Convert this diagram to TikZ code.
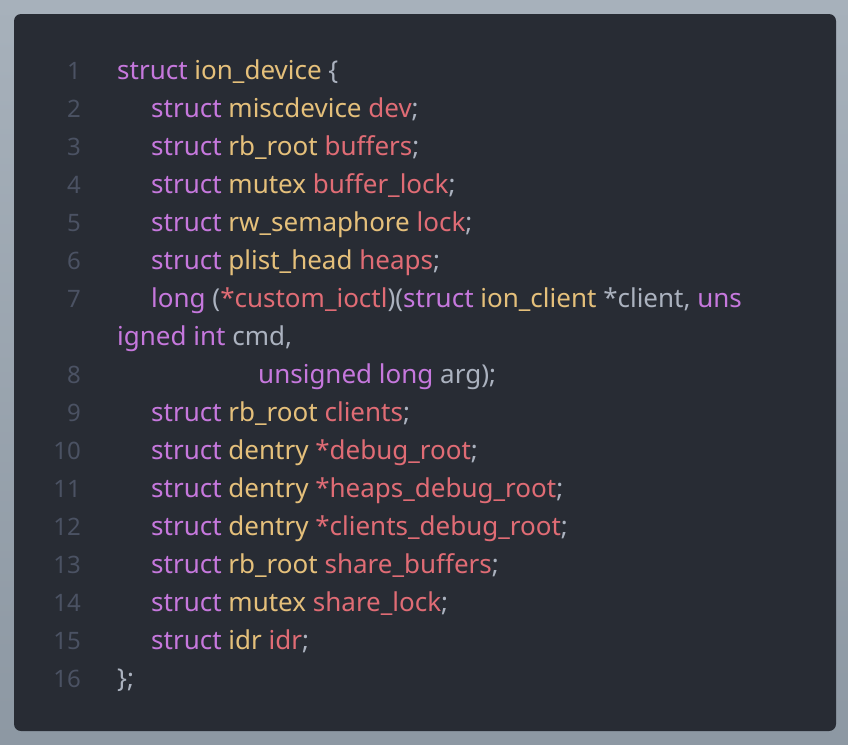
\documentclass[tikz,border=0pt]{standalone}
\usepackage{fontspec}
\setmainfont{Noto Sans}
\definecolor{kw}{HTML}{C678DD}
\definecolor{ty}{HTML}{E5C07B}
\definecolor{vr}{HTML}{E06C75}
\definecolor{pl}{HTML}{ABB2BF}
\definecolor{ln}{HTML}{4B5263}
\definecolor{panel}{HTML}{282C34}
\definecolor{outA}{HTML}{A7B1BB}
\definecolor{outB}{HTML}{8D98A3}
\newcommand{\K}[1]{\textcolor{kw}{#1}}
\newcommand{\T}[1]{\textcolor{ty}{#1}}
\newcommand{\V}[1]{\textcolor{vr}{#1}}
\newcommand{\Pl}[1]{\textcolor{pl}{#1}}
\begin{document}
\begin{tikzpicture}[x=1pt,y=-1pt,
  num/.style={anchor=base east,text=ln,font=\fontsize{24}{24}\selectfont,inner sep=0},
  code/.style={anchor=base west,text=pl,font=\fontsize{26}{26}\selectfont,inner sep=0}]
\useasboundingbox (0,0) rectangle (848,744);
\shade[top color=outA,bottom color=outB] (0,0) rectangle (848,744);
\fill[panel,rounded corners=7] (14,14) rectangle (836,731);
\foreach \i/\n in {1/1,2/2,3/3,4/4,5/5,6/6,7/7,9/8,10/9,11/10,12/11,13/12,14/13,15/14,16/15,17/16}{
  \node[num] (n\i) at (81,{70+38*(\i-1)+9}) {\n};
}
\node[code] (l1) at (117,79) {\K{struct} \T{ion\_device} \Pl{\{}};
\node[code] (l2) at (151,117) {\K{struct} \T{miscdevice} \V{dev}\Pl{;}};
\node[code] (l3) at (151,155) {\K{struct} \T{rb\_root} \V{buffers}\Pl{;}};
\node[code] (l4) at (151,193) {\K{struct} \T{mutex} \V{buffer\_lock}\Pl{;}};
\node[code] (l5) at (151,231) {\K{struct} \T{rw\_semaphore} \V{lock}\Pl{;}};
\node[code] (l6) at (151,269) {\K{struct} \T{plist\_head} \V{heaps}\Pl{;}};
\node[code] (l7) at (151,307) {\K{long} \Pl{(}\V{*custom\_ioctl}\Pl{)(}\K{struct} \T{ion\_client} \Pl{*client,} \K{uns}};
\node[code] (l7b) at (117,345) {\K{igned int} \Pl{cmd,}};
\node[code] (l8) at (258,383) {\K{unsigned long} \Pl{arg);}};
\node[code] (l9) at (151,421) {\K{struct} \T{rb\_root} \V{clients}\Pl{;}};
\node[code] (l10) at (151,459) {\K{struct} \T{dentry} \V{*debug\_root}\Pl{;}};
\node[code] (l11) at (151,497) {\K{struct} \T{dentry} \V{*heaps\_debug\_root}\Pl{;}};
\node[code] (l12) at (151,535) {\K{struct} \T{dentry} \V{*clients\_debug\_root}\Pl{;}};
\node[code] (l13) at (151,573) {\K{struct} \T{rb\_root} \V{share\_buffers}\Pl{;}};
\node[code] (l14) at (151,611) {\K{struct} \T{mutex} \V{share\_lock}\Pl{;}};
\node[code] (l15) at (151,649) {\K{struct} \T{idr} \V{idr}\Pl{;}};
\node[code] (l16) at (117,687) {\Pl{\};}};
\end{tikzpicture}
\end{document}
